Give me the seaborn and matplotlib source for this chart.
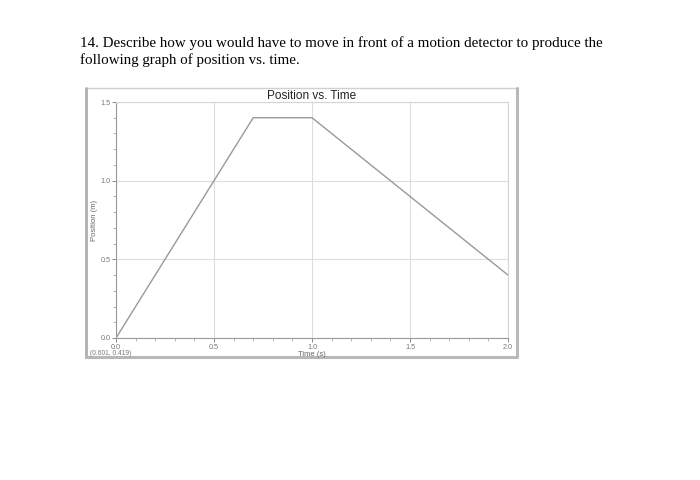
import matplotlib
matplotlib.use("Agg")
import matplotlib.pyplot as plt
import seaborn as sns
import pandas as pd
from matplotlib.patches import Rectangle
from matplotlib.ticker import MultipleLocator

time_s = [0.0, 0.7, 1.0, 2.0]
position_m = [0.0, 1.4, 1.4, 0.4]
x_ticks = [0.0, 0.5, 1.0, 1.5, 2.0]
y_ticks = [0.0, 0.5, 1.0, 1.5]
title = "Position vs. Time"
question = ("14. Describe how you would have to move in front of a motion detector to produce the\n"
            "following graph of position vs. time.")
cursor_text = "(0.601, 0.419)"

sns.set_theme(style="white")
plt.rcParams['font.family'] = ['Liberation Sans', 'DejaVu Sans']

df = pd.DataFrame({"Time (s)": time_s, "Position (m)": position_m})

fig = plt.figure(figsize=(7, 4.8), dpi=100)
fig.patch.set_facecolor("white")

# question text
fig.text(80/700, 1-36/480, question, family=['Liberation Serif'], fontsize=10.8,
         va='top', ha='left', color='black', linespacing=1.35)

# outer chart frame
frame = Rectangle((86/700, 1-357/480), 431/700, 269/480, transform=fig.transFigure,
                  facecolor='white', edgecolor='#d0d0d0', lw=1.0, zorder=-10)
fig.patches.append(frame)
fig.add_artist(plt.Line2D([86/700, 86/700], [1-357/480, 1-88/480], transform=fig.transFigure,
                          color='#b0b0b0', lw=2.0, zorder=-9))
fig.add_artist(plt.Line2D([86/700, 517/700, 517/700], [1-357/480, 1-357/480, 1-88/480],
                          transform=fig.transFigure, color='#b8b8b8', lw=2.2, zorder=-9))

ax = fig.add_axes([116/700, 1-338/480, 392/700, 236/480])
ax.set_zorder(1)
ax.patch.set_alpha(0)
sns.lineplot(data=df, x="Time (s)", y="Position (m)", ax=ax, color='#999999', lw=1.0)
ax.set_xlim(0, 2.0)
ax.set_ylim(0, 1.5)
ax.set_xticks(x_ticks)
ax.set_yticks(y_ticks)
ax.xaxis.set_minor_locator(MultipleLocator(0.1))
ax.yaxis.set_minor_locator(MultipleLocator(0.1))
ax.set_xticklabels([f"{v:.1f}" for v in x_ticks])
ax.set_yticklabels([f"{v:.1f}" for v in y_ticks])
ax.tick_params(axis='both', which='major', labelsize=5.2, colors='#777777', length=3,
               width=0.6, direction='out', bottom=True, left=True, pad=1)
ax.tick_params(axis='both', which='minor', length=2, width=0.5, colors='#999999',
               direction='out', bottom=True, left=True)
ax.grid(True, which='major', color='#dddddd', lw=0.8)
for s in ['top', 'right']:
    ax.spines[s].set_color('#d5d5d5')
    ax.spines[s].set_linewidth(0.8)
for s in ['left', 'bottom']:
    ax.spines[s].set_color('#9a9a9a')
    ax.spines[s].set_linewidth(0.8)
ax.set_xlabel("Time (s)", fontsize=5.5, color='#666666', labelpad=0)
ax.set_ylabel("Position (m)", fontsize=5.5, color='#666666', labelpad=1.5)
ax.set_title(title, fontsize=8.5, color='#222222', pad=1.5)
fig.text(90/700, 1-353.5/480, cursor_text, fontsize=4.8, color='#777777', va='center', ha='left')

fig.savefig("out.png", dpi=100, facecolor='white')
